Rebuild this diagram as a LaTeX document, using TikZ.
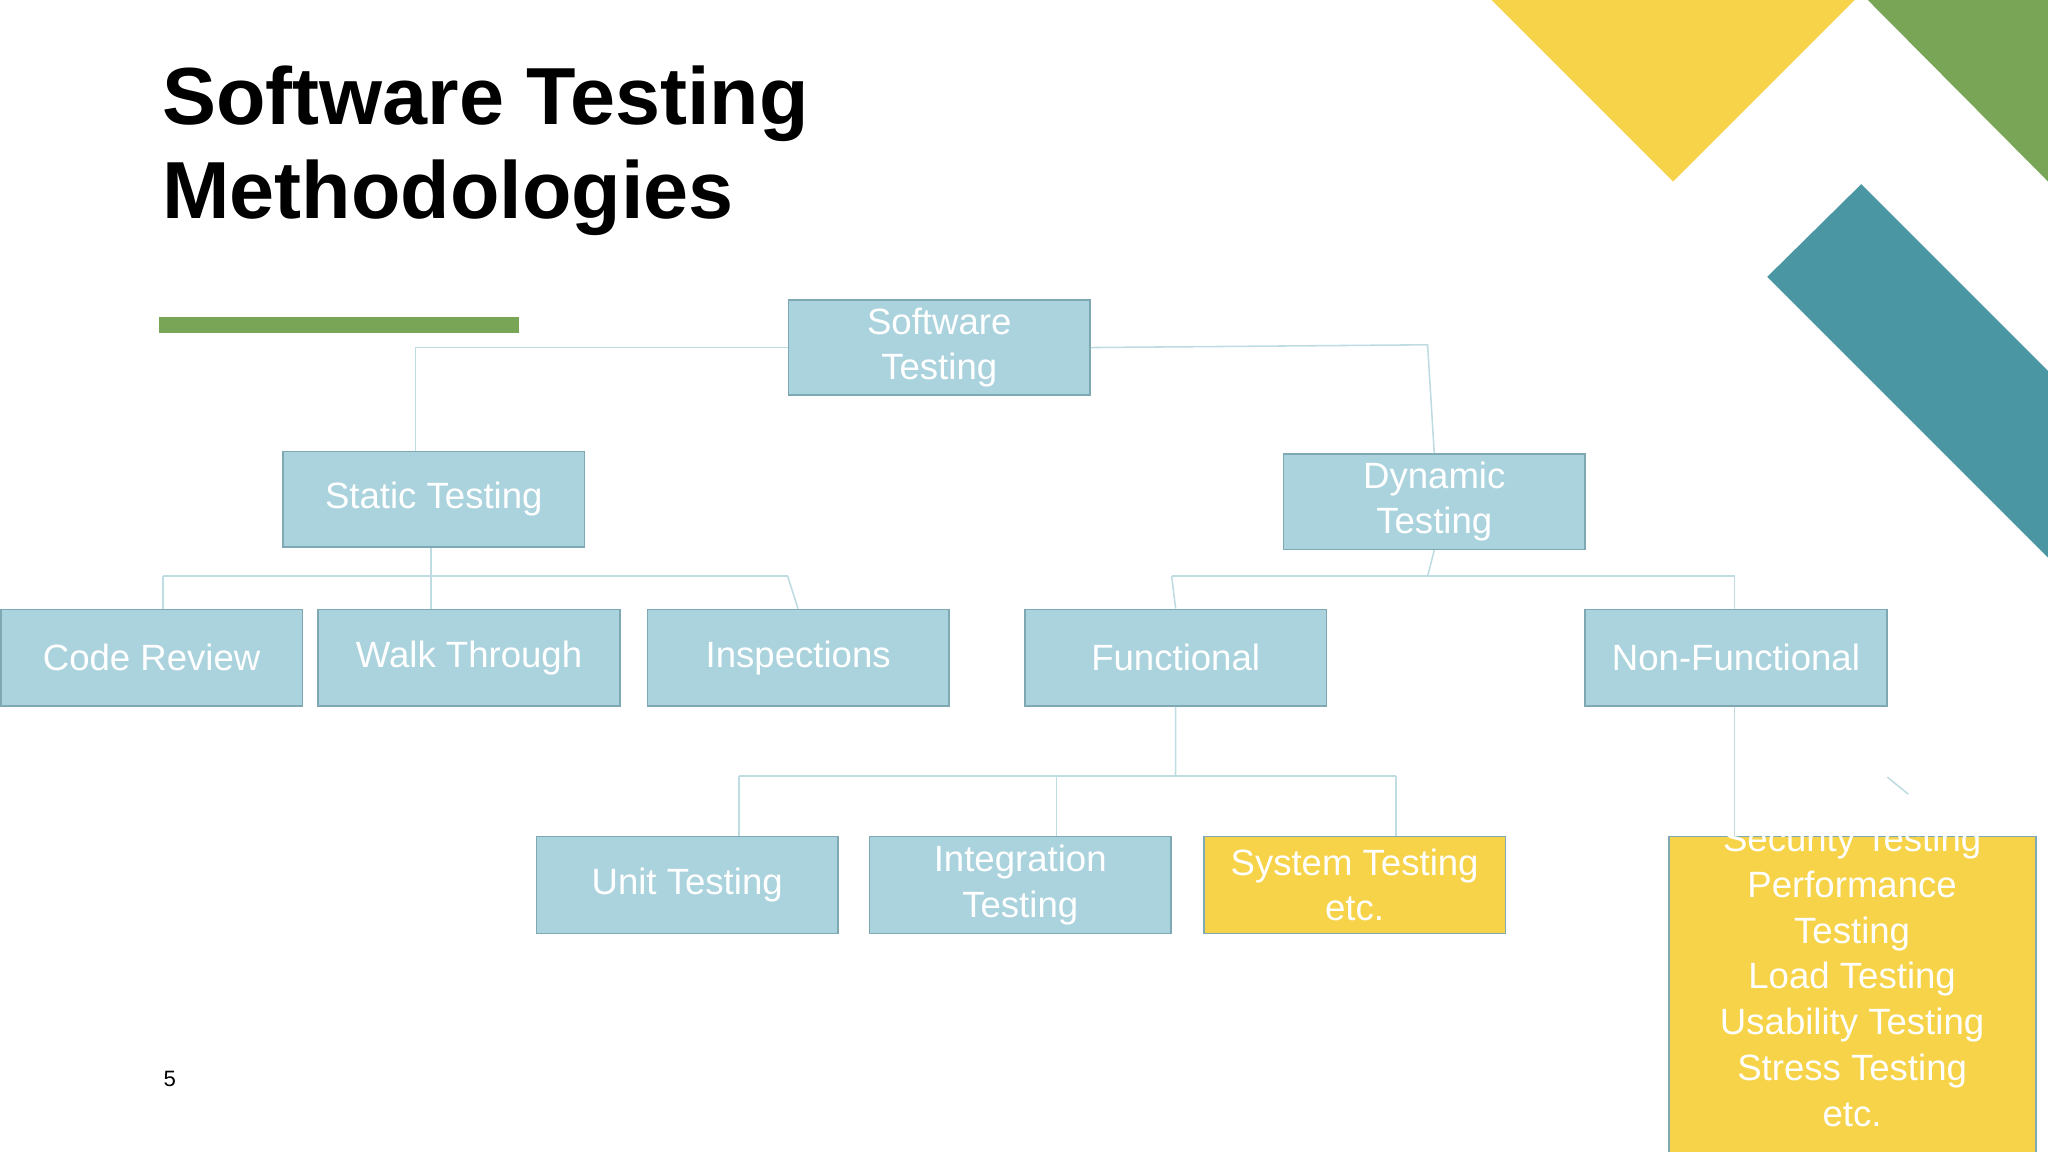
\documentclass[tikz,border=0pt]{standalone}
\usepackage{fontspec}
\setmainfont{Liberation Sans}
\definecolor{boxf}{HTML}{ABD3DD}
\definecolor{boxd}{HTML}{7FA9B2}
\definecolor{ylw}{HTML}{F6D349}
\definecolor{grn}{HTML}{78A656}
\definecolor{teal}{HTML}{4A96A3}
\definecolor{lnk}{HTML}{BFDCE2}
\begin{document}
\begin{tikzpicture}[x=1pt,y=-1pt,
  bx/.style={draw=boxd,line width=1.2pt,fill=boxf,text=white,font=\fontsize{28}{35}\selectfont,align=center,inner sep=0pt},
  yb/.style={bx,fill=ylw},
  lk/.style={draw=lnk,line width=1.2pt}]
\useasboundingbox (0,0) rectangle (1568,882);
\fill[ylw] (1142,0) -- (1420,0) -- (1281,139) -- cycle;
\fill[grn] (1430,0) -- (1568,0) -- (1568,139) -- cycle;
\fill[teal] (1353,212) -- (1425,141) -- (1568,284) -- (1568,427) -- cycle;
\fill[grn] (122,243) rectangle (397,255);
\node[anchor=north west,align=left,font=\fontsize{62}{72}\selectfont\bfseries,inner sep=0pt] (title) at (124,50) {Software Testing\\Methodologies};
\node[font=\fontsize{17}{20}\selectfont] (pg) at (130,826) {5};
\draw[lk] (1445,595) -- (1461,608);
% connectors (drawn first)
\coordinate (s1) at (318,264); \coordinate (s2) at (1093,264);
\coordinate (a1) at (330,441); \coordinate (a2) at (125,441); \coordinate (a3) at (603,441);
\coordinate (b1) at (1093,441); \coordinate (b2) at (897,441); \coordinate (b3) at (1328,441);
\coordinate (c1) at (900,594); \coordinate (c2) at (566,594); \coordinate (c3) at (809,594); \coordinate (c4) at (1069,594);
\node[bx,minimum width=231,minimum height=73,anchor=north west] (st) at (603,229) {Software\\Testing};
\node[bx,minimum width=231,minimum height=73,anchor=north west] (stat) at (216,345) {Static Testing};
\node[bx,minimum width=231,minimum height=73,anchor=north west] (dyn) at (982,347) {Dynamic\\Testing};
\node[bx,minimum width=231,minimum height=74,anchor=north west] (cr) at (0,466) {Code Review};
\node[bx,minimum width=231,minimum height=74,anchor=north west] (wt) at (243,466) {Walk Through};
\node[bx,minimum width=231,minimum height=74,anchor=north west] (in) at (495,466) {Inspections};
\node[bx,minimum width=231,minimum height=74,anchor=north west] (fn) at (784,466) {Functional};
\node[bx,minimum width=231,minimum height=74,anchor=north west] (nf) at (1213,466) {Non-Functional};
\node[bx,minimum width=231,minimum height=74,anchor=north west] (ut) at (410,640) {Unit Testing};
\node[bx,minimum width=231,minimum height=74,anchor=north west] (it) at (665,640) {Integration\\Testing};
\node[yb,minimum width=231,minimum height=74,anchor=north west] (sy) at (921,640) {System Testing\\etc.};
\node[yb,minimum width=281,minimum height=242,anchor=north west] (nfb) at (1277,640) {};
\node[text=white,font=\fontsize{28}{35}\selectfont,align=center,anchor=south] (nft) at (1418,866) {Security Testing\\Performance\\Testing\\Load Testing\\Usability Testing\\Stress Testing\\etc.};
\fill[white] (1200,560) rectangle (1568,638.4);
\draw[lk] (1445,595) -- (1461,608);
\draw[lk] (st.west) -- (st.west -| s1) -- (stat.north -| s1);
\draw[lk] (st.east) -- (s2) -- (dyn.north);
\draw[lk] (stat.south -| a1) -- (a1);
\draw[lk] (a2) -- (a3);
\draw[lk] (a2) -- (cr.north -| a2);
\draw[lk] (a1) -- (wt.north -| a1);
\draw[lk] (a3) -- (in.north -| 611,0);
\draw[lk] (dyn.south) -- (b1);
\draw[lk] (b2) -- (b3);
\draw[lk] (b2) -- (fn.north);
\draw[lk] (b3) -- (nf.north -| b3);
\draw[lk] (fn.south) -- (c1);
\draw[lk] (c2) -- (c4);
\draw[lk] (c2) -- (ut.north -| c2);
\draw[lk] (c3) -- (it.north -| c3);
\draw[lk] (c4) -- (sy.north -| c4);
\draw[lk] (nf.south -| b3) -- (nfb.north -| b3);
\end{tikzpicture}
\end{document}
